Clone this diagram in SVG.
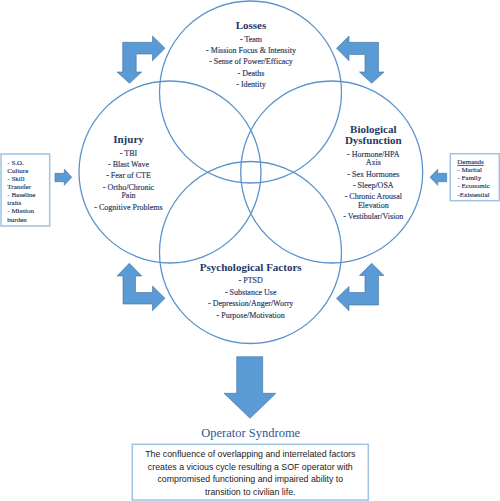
<svg xmlns="http://www.w3.org/2000/svg" width="500" height="501" viewBox="0 0 500 501">
<style>
.c{fill:none;stroke:#5b93cd;stroke-width:1.3}
.t{font-family:"Liberation Serif",serif;font-weight:bold;font-size:11px;fill:#1f3864;text-anchor:middle}
.i{font-family:"Liberation Serif",serif;font-size:8px;fill:#1f3864;stroke:#1f3864;stroke-width:0.15;text-anchor:middle}
.s{font-family:"Liberation Serif",serif;font-size:7px;fill:#1f3864;stroke:#1f3864;stroke-width:0.15}
.box{fill:#fff;stroke:#9dc3e6;stroke-width:1.5}
.ar{fill:#5b9bd5;stroke:#41719c;stroke-width:0.6;stroke-linejoin:miter}
.b{font-family:"Liberation Sans",Arial,sans-serif;font-size:8.8px;fill:#222;text-anchor:middle}
</style>
<rect width="500" height="501" fill="#fff"/>
<g id="connectors">
<polygon class="ar" points="122.7,42.3 152.5,42.3 152.5,36 165,48.3 152.5,60.7 152.5,54 136.2,54 136.2,72 141.7,72 129.5,83.3 117,72 122.7,72"/>
<polygon class="ar" points="378.5,42.3 349,42.3 349,36 336.5,48.3 349,60.7 349,54.5 365,54.5 365,72 359.5,72 371.7,83.3 384,72 378.5,72"/>
<polygon class="ar" points="123,304 123,276 117,276 129.3,263.3 141.7,276 135.5,276 135.5,292.5 152.5,292.5 152.5,286 165,298.3 152.5,310.7 152.5,304"/>
<polygon class="ar" points="378.5,305 378.5,275.5 384,275.5 371.7,263.3 359.5,275.5 365,275.5 365,292.5 349,292.5 349,286.5 336.5,298.5 349,310.7 349,305"/>
<polygon class="ar" points="55,173.3 64.3,173.3 64.3,169 71.7,177.2 64.3,185.3 64.3,181.7 55,181.7"/>
<polygon class="ar" points="446.7,173.3 437.7,173.3 437.7,169.3 430,177.3 437.7,185.3 437.7,181.7 446.7,181.7"/>
<polygon class="ar" points="236.7,356.7 262.7,356.7 262.7,393.3 276,393.3 250,418.3 224,393.3 236.7,393.3"/>
</g>
<g id="losses">
<circle class="c" cx="250.5" cy="92" r="91"/>
<text class="t" x="251" y="28.8">Losses</text>
<text class="i" x="251" y="41.7">- Team</text>
<text class="i" x="251" y="53">- Mission Focus &amp; Intensity</text>
<text class="i" x="251" y="64.4">- Sense of Power/Efficacy</text>
<text class="i" x="251" y="75.7">- Deaths</text>
<text class="i" x="251" y="87.2">- Identity</text>
</g>
<g id="injury">
<circle class="c" cx="170" cy="172" r="91"/>
<text class="t" x="128.5" y="142.8">Injury</text>
<text class="i" x="128.5" y="155.7">- TBI</text>
<text class="i" x="128.5" y="167">- Blast Wave</text>
<text class="i" x="128.5" y="178.4">- Fear of CTE</text>
<text class="i" x="128.5" y="190">- Ortho/Chronic</text>
<text class="i" x="128.5" y="198.4">Pain</text>
<text class="i" x="128.5" y="209.7">- Cognitive Problems</text>
</g>
<g id="biological">
<circle class="c" cx="331.7" cy="172" r="91"/>
<text class="t" x="373.3" y="133.1">Biological</text>
<text class="t" x="373.3" y="144.1">Dysfunction</text>
<text class="i" x="373.3" y="157">- Hormone/HPA</text>
<text class="i" x="373.3" y="165.4">Axis</text>
<text class="i" x="373.3" y="176.7">- Sex Hormones</text>
<text class="i" x="373.3" y="188">- Sleep/OSA</text>
<text class="i" x="373.3" y="199.4">- Chronic Arousal</text>
<text class="i" x="373.3" y="207.7">Elevation</text>
<text class="i" x="373.3" y="219.4">- Vestibular/Vision</text>
</g>
<g id="psychological">
<circle class="c" cx="250.5" cy="252.5" r="91"/>
<text class="t" x="250.7" y="270.5">Psychological Factors</text>
<text class="i" x="250.7" y="283.4">- PTSD</text>
<text class="i" x="250.7" y="294.7">- Substance Use</text>
<text class="i" x="250.7" y="306.4">- Depression/Anger/Worry</text>
<text class="i" x="250.7" y="317.7">- Purpose/Motivation</text>
</g>
<g id="so-box">
<rect class="box" x="1" y="154" width="48.7" height="72"/>
<text class="s" x="7.3" y="164.7">- S.O.</text>
<text class="s" x="7.3" y="172.7">Culture</text>
<text class="s" x="7.3" y="180.8">- Skill</text>
<text class="s" x="7.3" y="189">Transfer</text>
<text class="s" x="7.3" y="197">- Baseline</text>
<text class="s" x="7.3" y="205.3">traits</text>
<text class="s" x="7.3" y="213.4">- Mission</text>
<text class="s" x="7.3" y="221.6">burden</text>
</g>
<g id="demands-box">
<rect class="box" x="450.3" y="153.7" width="49" height="47"/>
<text class="s" x="457.3" y="164" text-decoration="underline">Demands</text>
<text class="s" x="457.3" y="172">- Marital</text>
<text class="s" x="457.3" y="180">- Family</text>
<text class="s" x="457.3" y="188.4">- Economic</text>
<text class="s" x="457.3" y="196.7">-Existential</text>
</g>
<g id="operator-syndrome">
<text x="250.7" y="437.3" font-family="Liberation Serif, serif" font-size="12.5" fill="#2f5597" text-anchor="middle">Operator Syndrome</text>
<rect class="box" x="132.3" y="444.3" width="236" height="55.7"/>
<text class="b" x="250.3" y="457">The confluence of overlapping and interrelated factors</text>
<text class="b" x="250.3" y="469.7">creates a vicious cycle resulting a SOF operator with</text>
<text class="b" x="250.3" y="482.3">compromised functioning and impaired ability to</text>
<text class="b" x="250.3" y="494.7">transition to civilian life.</text>
</g>
</svg>
